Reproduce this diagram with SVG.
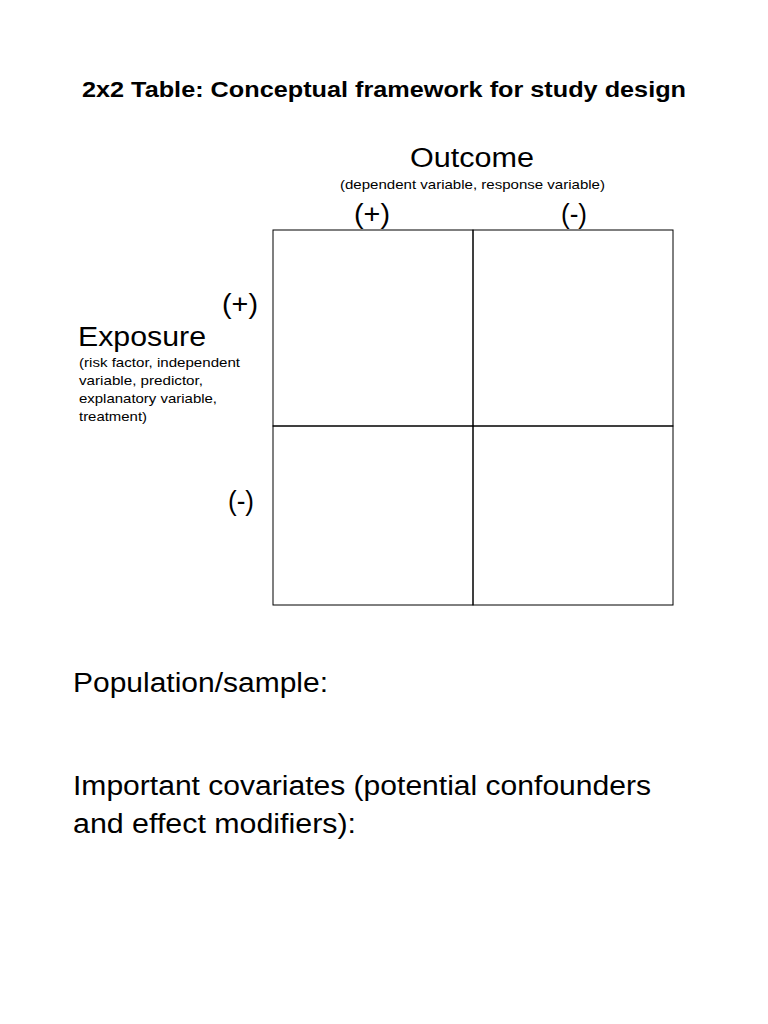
<svg xmlns="http://www.w3.org/2000/svg" width="768" height="1024" viewBox="0 0 768 1024">
<style>
text{font-family:"Liberation Sans",Arial,sans-serif;fill:#000}
.big{font-size:27px}
.sm{font-size:13px}
.cell{fill:none;stroke:#000;stroke-width:1}
</style>
<rect width="768" height="1024" fill="#fff"/>
<text x="82" y="97" font-size="22" font-weight="bold" textLength="604" lengthAdjust="spacingAndGlyphs">2x2 Table: Conceptual framework for study design</text>
<g id="outcome">
<text class="big" x="410" y="167" textLength="124" lengthAdjust="spacingAndGlyphs">Outcome</text>
<text class="sm" x="340" y="189" textLength="265" lengthAdjust="spacingAndGlyphs">(dependent variable, response variable)</text>
<text class="big" x="354" y="223" textLength="36" lengthAdjust="spacingAndGlyphs">(+)</text>
<text class="big" x="561" y="223" textLength="26" lengthAdjust="spacingAndGlyphs">(-)</text>
</g>
<g id="exposure">
<text class="big" x="78" y="346" textLength="128" lengthAdjust="spacingAndGlyphs">Exposure</text>
<text class="sm" x="79" y="367" textLength="161" lengthAdjust="spacingAndGlyphs">(risk factor, independent</text>
<text class="sm" x="79" y="385" textLength="124" lengthAdjust="spacingAndGlyphs">variable, predictor,</text>
<text class="sm" x="79" y="403" textLength="138" lengthAdjust="spacingAndGlyphs">explanatory variable,</text>
<text class="sm" x="79" y="421" textLength="68" lengthAdjust="spacingAndGlyphs">treatment)</text>
<text class="big" x="222" y="313" textLength="36" lengthAdjust="spacingAndGlyphs">(+)</text>
<text class="big" x="228" y="510" textLength="26" lengthAdjust="spacingAndGlyphs">(-)</text>
</g>
<g id="table">
<rect class="cell" x="273" y="230" width="200" height="196"/>
<rect class="cell" x="473" y="230" width="200" height="196"/>
<rect class="cell" x="273" y="426" width="200" height="179"/>
<rect class="cell" x="473" y="426" width="200" height="179"/>
</g>
<g id="connectors"></g>
<text class="big" x="73" y="692" textLength="255" lengthAdjust="spacingAndGlyphs">Population/sample:</text>
<text class="big" x="73" y="795" textLength="578" lengthAdjust="spacingAndGlyphs">Important covariates (potential confounders</text>
<text class="big" x="73" y="833" textLength="283" lengthAdjust="spacingAndGlyphs">and effect modifiers):</text>
</svg>
